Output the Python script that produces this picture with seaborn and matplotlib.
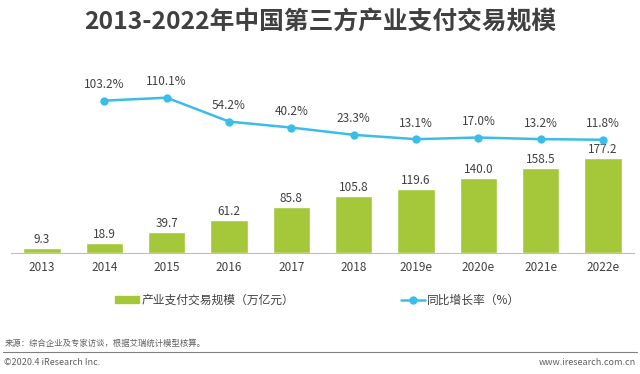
import seaborn as sns
import matplotlib.pyplot as plt
from matplotlib.lines import Line2D
from matplotlib.patches import Patch

years = ["2013", "2014", "2015", "2016", "2017", "2018", "2019e", "2020e", "2021e", "2022e"]
scale = [9.3, 18.9, 39.7, 61.2, 85.8, 105.8, 119.6, 140.0, 158.5, 177.2]
growth_years = years[1:]
growth = [103.2, 110.1, 54.2, 40.2, 23.3, 13.1, 17.0, 13.2, 11.8]

GREEN = "#a4c83a"
BLUE = "#3bbde8"
TEXT = "#404040"

sns.set_style("white")
plt.rcParams["font.family"] = ["Noto Sans CJK SC", "DejaVu Sans"]

fig = plt.figure(figsize=(6.4, 3.74), dpi=100)
ax = fig.add_axes([0.017, 0.3235, 0.974, 0.517])

# bars: transaction scale
sns.barplot(x=years, y=scale, ax=ax, color=GREEN, width=0.6, saturation=1)
ax.set_ylim(0, 360)
ax.set_xlim(-0.5, 9.5)
for i, v in enumerate(scale):
    ax.text(i, v + 4, f"{v:.1f}", ha="center", va="bottom", fontsize=8.5, color=TEXT)

ax.set_yticks([])
for s in ["top", "left", "right"]:
    ax.spines[s].set_visible(False)
ax.spines["bottom"].set_color("#bfbfbf")
ax.spines["bottom"].set_linewidth(0.8)
ax.tick_params(axis="x", length=0, labelsize=8.5, labelcolor=TEXT, pad=6)

# line: yoy growth
ax2 = ax.twinx()
xs = [years.index(y) for y in growth_years]
sns.lineplot(x=xs, y=growth, ax=ax2, color=BLUE, marker="o", markersize=6,
             markeredgewidth=0, linewidth=1.8)
ax2.set_ylim(-253, 199)
ax2.set_xlim(-0.5, 9.5)
ax2.axis("off")
for x, v in zip(xs, growth):
    ax2.text(x, v + 22, f"{v:.1f}%", ha="center", va="bottom", fontsize=8.5, color=TEXT)

fig.text(0.5, 0.94, "2013-2022年中国第三方产业支付交易规模", ha="center", va="center",
         fontsize=17.8, fontweight="bold", color=TEXT)

handles = [Patch(color=GREEN), Line2D([0], [0], color=BLUE, marker="o", markersize=5, lw=1.8)]
fig.legend(handles[:1], ["产业支付交易规模（万亿元）"], loc="center", bbox_to_anchor=(0.32, 0.197),
           frameon=False, fontsize=8.5, handlelength=2.0, handleheight=0.5,
           labelcolor=TEXT, handletextpad=0.2)
fig.legend(handles[1:], ["同比增长率（%）"], loc="center", bbox_to_anchor=(0.72, 0.197),
           frameon=False, fontsize=8.5, handlelength=2.0, labelcolor=TEXT, handletextpad=0.2)

fig.text(0.007, 0.083, "来源：综合企业及专家访谈，根据艾瑞统计模型核算。", fontsize=6, color="#606060", va="center")
fig.add_artist(Line2D([0.005, 0.995], [0.059, 0.059], color="#808080", lw=0.8))
fig.text(0.007, 0.032, "©2020.4 iResearch Inc.", fontsize=6.5, color="#606060", va="center")
fig.text(0.993, 0.032, "www.iresearch.com.cn", fontsize=6.5, color="#606060", va="center", ha="right")

fig.savefig("out.png", dpi=100, facecolor="white")
